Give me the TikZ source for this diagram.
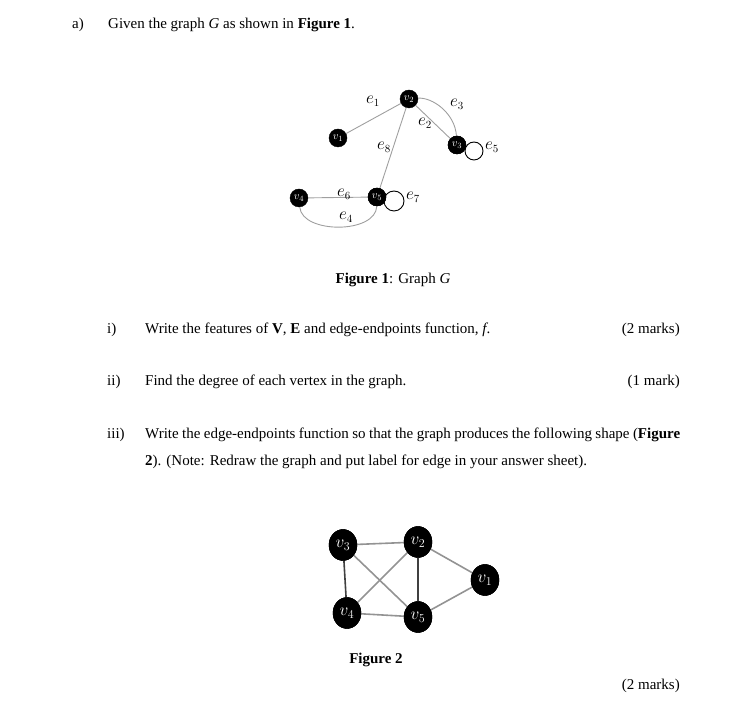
\documentclass[tikz,border=0pt]{standalone}
\usepackage{fontspec}
\setmainfont{Liberation Serif}
\usetikzlibrary{shapes.geometric}
\begin{document}
\begin{tikzpicture}[x=1pt,y=1pt,
  txt/.style={inner sep=0pt, font=\fontsize{15}{18}\selectfont},
  va/.style={circle, fill=black, draw=black, minimum size=18pt, inner sep=0pt, text=white, font=\fontsize{11}{12}\selectfont},
  vb/.style={ellipse, fill=black, draw=black, minimum width=28pt, minimum height=31pt, inner sep=0pt, text=white, font=\fontsize{17}{19}\selectfont},
  edgeg/.style={draw=gray!75, line width=0.9pt},
  edgeb/.style={draw=gray!85, line width=1.6pt},
  edged/.style={draw=black!75, line width=1.6pt},
  loopl/.style={draw=black, line width=0.9pt},
  elab/.style={inner sep=0pt, font=\fontsize{16}{18}\selectfont}]
\useasboundingbox (0,0) rectangle (732,718);

% heading
\node[txt, anchor=west] (ha) at (72,693) {a)};
\node[txt, anchor=west] (hb) at (108,693) {Given the graph \textit{G} as shown in \textbf{Figure 1}.};

% Graph 1
\coordinate (l5) at (474,567);
\coordinate (l7) at (394,517);
\node[va] (v1) at (338,580) {$v_1$};
\node[va] (v2) at (409,619) {$v_2$};
\node[va] (v3) at (457,573) {$v_3$};
\node[va] (v4) at (299,520) {$v_4$};
\node[va] (v5) at (377,521) {$v_5$};
\draw[edgeg] (v1) -- (v2);
\draw[edgeg] (v2) -- (v3);
\draw[edgeg] (v2) .. controls (432,621) and (455,605) .. (v3);
\draw[edgeg] (v2) -- (v5);
\draw[edgeg] (v4) -- (v5);
\draw[edgeg] (v4) .. controls (302,484) and (376,484) .. (v5);
\draw[loopl] (l5) circle (9);
\draw[loopl] (l7) circle (10);
\node[va] at (v3) {$v_3$};
\node[va] at (v5) {$v_5$};
\node[elab] (le1) at (373,617) {$e_1$};
\node[elab] (le2) at (425,595) {$e_2$};
\node[elab] (le3) at (457,614) {$e_3$};
\node[elab] (le5) at (492,571) {$e_5$};
\node[elab] (le8) at (384,571) {$e_8$};
\node[elab] (le6) at (344,524) {$e_6$};
\node[elab] (le7) at (413,521) {$e_7$};
\node[elab] (le4) at (346,501) {$e_4$};

\node[txt] (cap1) at (393,438) {\textbf{Figure 1}: Graph \textit{G}};

% questions
\node[txt, anchor=west] (qi) at (107,388) {i)};
\node[txt, anchor=west] (ti) at (145,388) {Write the features of \textbf{V}, \textbf{E} and edge-endpoints function, \textit{f}.};
\node[txt, anchor=east] (mi) at (680,388) {(2 marks)};
\node[txt, anchor=west] (qii) at (107,336) {ii)};
\node[txt, anchor=west] (tii) at (145,336) {Find the degree of each vertex in the graph.};
\node[txt, anchor=east] (mii) at (680,336) {(1 mark)};
\node[txt, anchor=west] (qiii) at (107,283) {iii)};
\node[txt, anchor=west] (tiii) at (145,283) {\makebox[535pt][s]{Write the edge-endpoints function so that the graph produces the following shape (\textbf{Figure}}};
\node[txt, anchor=west] (tiii2) at (145,256) {\textbf{2}). (Note: Redraw the graph and put label for edge in your answer sheet).};

% Graph 2
\node[vb] (w3) at (343,173) {$v_3$};
\node[vb] (w2) at (418,176) {$v_2$};
\node[vb] (w1) at (485,138) {$v_1$};
\node[vb] (w4) at (347,105) {$v_4$};
\node[vb] (w5) at (418,101) {$v_5$};
\draw[edgeb] (w3) -- (w2);
\draw[edged] (w3) -- (w4);
\draw[edgeb] (w3) -- (w5);
\draw[edgeb] (w4) -- (w2);
\draw[edgeb] (w4) -- (w5);
\draw[edged] (w2) -- (w5);
\draw[edgeb] (w2) -- (w1);
\draw[edgeb] (w5) -- (w1);
\node[vb] at (w3) {$v_3$};
\node[vb] at (w2) {$v_2$};
\node[vb] at (w1) {$v_1$};
\node[vb] at (w4) {$v_4$};
\node[vb] at (w5) {$v_5$};

\node[txt] (cap2) at (376,58) {\textbf{Figure 2}};
\node[txt, anchor=east] (m3) at (680,32) {(2 marks)};
\end{tikzpicture}
\end{document}
